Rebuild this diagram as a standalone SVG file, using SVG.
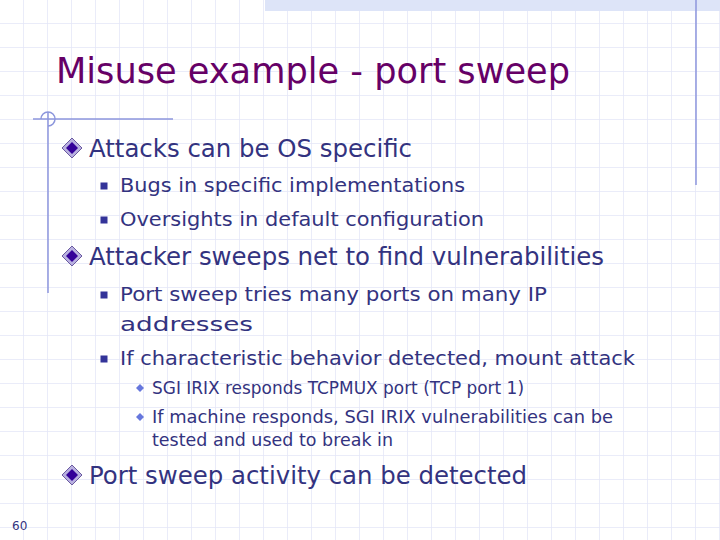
<svg xmlns="http://www.w3.org/2000/svg" width="720" height="540" viewBox="0 0 720 540">
<defs>
<pattern id="grid" width="24" height="24" patternUnits="userSpaceOnUse">
<path d="M24 0V24M0 24H24" fill="none" stroke="#e4e6f8" stroke-width="1.5"/>
</pattern>
<g id="d1"><path d="M0 -10L10 0L0 10L-10 0Z" fill="#b8b0e0" stroke="#6a5aa0" stroke-width="1"/><path d="M0 -6L6 0L0 6L-6 0Z" fill="#330099"/></g>
<rect id="sq" x="-3.5" y="-3.5" width="7" height="7" fill="#333399"/>
<path id="d3" d="M0 -4L4 0L0 4L-4 0Z" fill="#6677dd"/>
</defs>
<style>
text{font-family:"DejaVu Sans","Liberation Sans",sans-serif;fill:#333380}
.t{fill:#660066;font-size:36px}
.l1{font-size:24px}.l2{font-size:20px}.l3{font-size:17px}
</style>
<rect width="720" height="540" fill="#fff"/>
<rect width="720" height="540" fill="url(#grid)"/>
<rect x="265" y="0" width="455" height="11" fill="#dde4f8"/>
<g id="deco" stroke="#8c96dc" fill="none" stroke-width="1.5">
<line x1="696" y1="0" x2="696" y2="185"/>
<line x1="33" y1="119" x2="173" y2="119"/>
<line x1="48" y1="112" x2="48" y2="293"/>
<path d="M41 119A7 7 0 1 1 48 126"/>
</g>
<g id="title"><text class="t" x="56" y="83" textLength="514" lengthAdjust="spacingAndGlyphs">Misuse example - port sweep</text></g>
<g id="bullets">
<use href="#d1" x="72" y="148"/>
<text class="l1" x="89" y="157" textLength="323" lengthAdjust="spacingAndGlyphs">Attacks can be OS specific</text>
<use href="#sq" x="104" y="186"/>
<text class="l2" x="120" y="192" textLength="345" lengthAdjust="spacingAndGlyphs">Bugs in specific implementations</text>
<use href="#sq" x="104" y="220"/>
<text class="l2" x="120" y="226" textLength="364" lengthAdjust="spacingAndGlyphs">Oversights in default configuration</text>
<use href="#d1" x="72" y="256"/>
<text class="l1" x="89" y="265" textLength="515" lengthAdjust="spacingAndGlyphs">Attacker sweeps net to find vulnerabilities</text>
<use href="#sq" x="104" y="295"/>
<text class="l2" x="120" y="301" textLength="427" lengthAdjust="spacingAndGlyphs">Port sweep tries many ports on many IP</text>
<text class="l2" x="120" y="331" textLength="133" lengthAdjust="spacingAndGlyphs">addresses</text>
<use href="#sq" x="104" y="359"/>
<text class="l2" x="120" y="365" textLength="515" lengthAdjust="spacingAndGlyphs">If characteristic behavior detected, mount attack</text>
<use href="#d3" x="140" y="388"/>
<text class="l3" x="152" y="394" textLength="372" lengthAdjust="spacingAndGlyphs">SGI IRIX responds TCPMUX port (TCP port 1)</text>
<use href="#d3" x="140" y="417"/>
<text class="l3" x="152" y="423" textLength="461" lengthAdjust="spacingAndGlyphs">If machine responds, SGI IRIX vulnerabilities can be</text>
<text class="l3" x="152" y="446" textLength="241" lengthAdjust="spacingAndGlyphs">tested and used to break in</text>
<use href="#d1" x="72" y="475"/>
<text class="l1" x="89" y="484" textLength="438" lengthAdjust="spacingAndGlyphs">Port sweep activity can be detected</text>
</g>
<text x="12" y="530" font-size="12">60</text>
</svg>
